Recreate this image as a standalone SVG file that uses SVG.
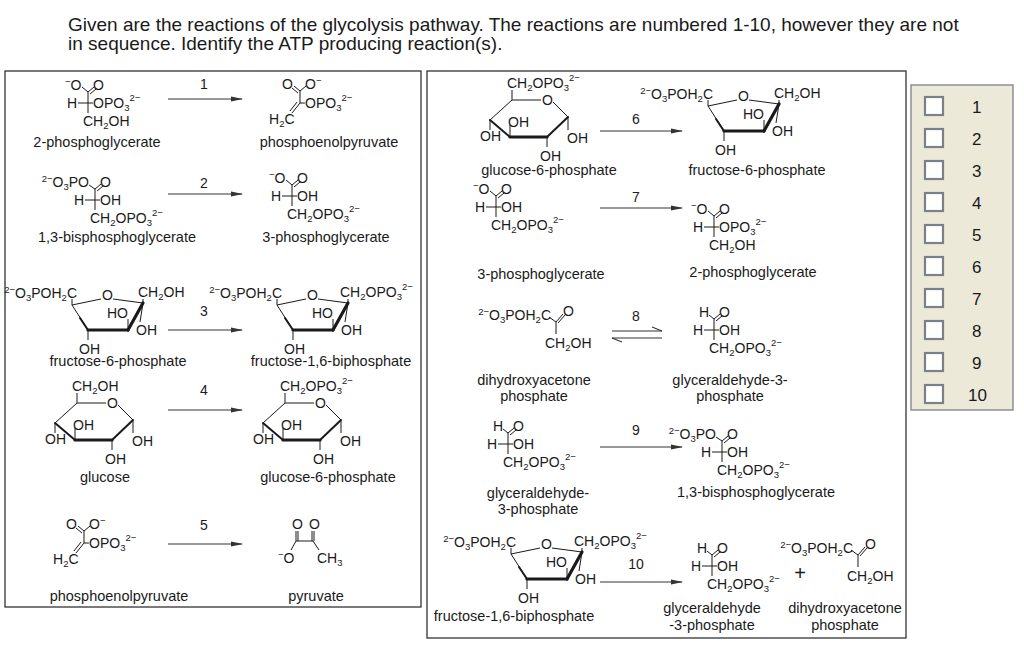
<svg xmlns="http://www.w3.org/2000/svg" xmlns:xlink="http://www.w3.org/1999/xlink" width="1024" height="653" viewBox="0 0 1024 653">
<style>
text{font-family:"Liberation Sans",Arial,sans-serif;fill:#1a1a1a}
.t{font-size:14px}
.s{font-size:9.5px}
.lab{font-size:14.5px;text-anchor:middle}
.ttl{font-size:19px}
.n{font-size:14px;text-anchor:middle}
line,polyline{stroke:#1a1a1a;stroke-width:1;fill:none}
.b{stroke-width:3.2;stroke-linecap:round}
.box{fill:#fff;stroke:#333;stroke-width:1.3}
.cb{fill:#fff;stroke:#7a8288;stroke-width:2.2}
.num{font-size:17px}
.arr{stroke:#333;stroke-width:1.1}
</style>
<defs>
<marker id="ah" markerWidth="12" markerHeight="6" refX="11" refY="3" orient="auto" markerUnits="userSpaceOnUse"><path d="M0,0.5 L12,3 L0,5.5 Z" fill="#333"/></marker>
<g id="pg2">
<line x1="0" y1="-11" x2="0" y2="10"/><line x1="0" y1="-11" x2="-6" y2="-16"/><line x1="0" y1="-11" x2="6" y2="-16"/><line x1="2" y1="-9" x2="8" y2="-14"/>
<text class="t" x="-23" y="-13"><tspan class="s" dy="-5">−</tspan><tspan dy="5">O</tspan></text><text class="t" x="5" y="-13">O</text>
<line x1="-10" y1="0" x2="0" y2="0"/><line x1="0" y1="0" x2="5" y2="0"/>
<text class="t" x="-21" y="5">H</text>
<text class="t" x="5" y="5">OPO<tspan class="s" dy="3">3</tspan><tspan class="s" dy="-10">2−</tspan></text>
<text class="t" x="-5" y="23">CH<tspan class="s" dy="3">2</tspan><tspan dy="-3">OH</tspan></text>
</g>
<g id="tail3">
<line x1="0" y1="0" x2="0" y2="10"/><line x1="-10" y1="0" x2="5" y2="0"/>
<text class="t" x="-21" y="5">H</text><text class="t" x="5" y="5">OH</text>
<text class="t" x="-5" y="23">CH<tspan class="s" dy="3">2</tspan><tspan dy="-3">OPO</tspan><tspan class="s" dy="3">3</tspan><tspan class="s" dy="-10">2−</tspan></text>
</g>
<g id="pg3">
<use xlink:href="#tail3"/>
<line x1="0" y1="-11" x2="0" y2="0"/><line x1="0" y1="-11" x2="-6" y2="-16"/><line x1="0" y1="-11" x2="6" y2="-16"/><line x1="2" y1="-9" x2="8" y2="-14"/>
<text class="t" x="-23" y="-13"><tspan class="s" dy="-5">−</tspan><tspan dy="5">O</tspan></text><text class="t" x="5" y="-13">O</text>
</g>
<g id="gap">
<use xlink:href="#tail3"/>
<line x1="0" y1="-11" x2="0" y2="0"/><line x1="0" y1="-11" x2="-5" y2="-15"/><line x1="0" y1="-11" x2="6" y2="-16"/><line x1="2" y1="-9" x2="8" y2="-14"/>
<text class="t" x="-15" y="-13">H</text><text class="t" x="5" y="-13">O</text>
</g>
<g id="bpg">
<use xlink:href="#tail3"/>
<line x1="0" y1="-11" x2="0" y2="0"/><line x1="0" y1="-11" x2="-6" y2="-15"/><line x1="0" y1="-11" x2="6" y2="-16"/><line x1="2" y1="-9" x2="8" y2="-14"/>
<text class="t" x="-6" y="-13" text-anchor="end"><tspan class="s" dy="-5">2−</tspan><tspan dy="5">O</tspan><tspan class="s" dy="3">3</tspan><tspan dy="-3">PO</tspan></text><text class="t" x="5" y="-13">O</text>
</g>
<g id="pep">
<line x1="0" y1="0" x2="0" y2="-12"/><line x1="0" y1="-12" x2="-6" y2="-17"/><line x1="-2" y1="-10" x2="-8" y2="-15"/><line x1="0" y1="-12" x2="6" y2="-17"/>
<text class="t" x="-18" y="-14">O</text><text class="t" x="5" y="-14">O<tspan class="s" dy="-5">−</tspan></text>
<line x1="0" y1="0" x2="5" y2="0"/>
<text class="t" x="5" y="5">OPO<tspan class="s" dy="3">3</tspan><tspan class="s" dy="-10">2−</tspan></text>
<line x1="0" y1="0" x2="-8" y2="10"/><line x1="-3" y1="-1" x2="-10" y2="8"/>
<text class="t" x="-31" y="21">H<tspan class="s" dy="3">2</tspan><tspan dy="-3">C</tspan></text>
</g>
<g id="pyr">
<line x1="0" y1="0" x2="0" y2="-10"/><line x1="2" y1="0" x2="2" y2="-10"/><text class="t" x="-4" y="-12">O</text>
<line x1="0" y1="0" x2="-5" y2="9"/><text class="t" x="-18" y="22"><tspan class="s" dy="-5">−</tspan><tspan dy="5">O</tspan></text>
<line x1="0" y1="0" x2="17" y2="0"/>
<line x1="16" y1="0" x2="16" y2="-10"/><line x1="18" y1="0" x2="18" y2="-10"/><text class="t" x="13" y="-12">O</text>
<line x1="17" y1="0" x2="23" y2="9"/><text class="t" x="21" y="22">CH<tspan class="s" dy="3">3</tspan></text>
</g>
<g id="dhapcore">
<line x1="-7" y1="-5" x2="0" y2="0"/><line x1="0" y1="0" x2="7" y2="-8"/><line x1="2" y1="1" x2="9" y2="-7"/>
<text class="t" x="7" y="-6">O</text>
<line x1="0" y1="0" x2="0" y2="12"/>
<text class="t" x="-11" y="26">CH<tspan class="s" dy="3">2</tspan><tspan dy="-3">OH</tspan></text>
<text class="t" x="-5" y="-2" text-anchor="end"><tspan class="s" dy="-5">2−</tspan><tspan dy="5">O</tspan><tspan class="s" dy="3">3</tspan><tspan dy="-3">POH</tspan><tspan class="s" dy="3">2</tspan><tspan dy="-3">C</tspan></text>
</g>
<g id="furan">
<text class="t" x="5" y="-7" text-anchor="end"><tspan class="s" dy="-5">2−</tspan><tspan dy="5">O</tspan><tspan class="s" dy="3">3</tspan><tspan dy="-3">POH</tspan><tspan class="s" dy="3">2</tspan><tspan dy="-3">C</tspan></text>
<line x1="0" y1="-6" x2="0" y2="0"/>
<line x1="0" y1="0" x2="29" y2="-6"/><text class="t" x="30" y="-5">O</text><line x1="41" y1="-6" x2="71" y2="-2"/>
<line class="b" x1="71" y1="-2" x2="56" y2="25"/><line class="b" x1="56" y1="25" x2="16" y2="25"/>
<polyline points="0,0 16,25"/><line class="b" x1="8" y1="13" x2="16" y2="25" style="stroke-width:2"/>
<line x1="16" y1="25" x2="16" y2="35"/><text class="t" x="7" y="49">OH</text>
<line x1="56" y1="25" x2="56" y2="14"/><text class="t" x="35" y="13">HO</text>
<line x1="71" y1="-2" x2="68" y2="17"/><text class="t" x="64" y="30">OH</text>
<line x1="71" y1="-2" x2="71" y2="-6"/>
</g>
<g id="f6p"><use xlink:href="#furan"/><text class="t" x="66" y="-8">CH<tspan class="s" dy="3">2</tspan><tspan dy="-3">OH</tspan></text></g>
<g id="f16"><use xlink:href="#furan"/><text class="t" x="63" y="-8">CH<tspan class="s" dy="3">2</tspan><tspan dy="-3">OPO</tspan><tspan class="s" dy="3">3</tspan><tspan class="s" dy="-10">2−</tspan></text></g>
<g id="pyran">
<line x1="0" y1="0" x2="29" y2="0"/><text class="t" x="30" y="5">O</text><line x1="41" y1="2" x2="56" y2="17"/>
<line class="b" x1="56" y1="17" x2="35" y2="37" style="stroke-width:2"/><line class="b" x1="35" y1="37" x2="-2" y2="37"/><line class="b" x1="-2" y1="37" x2="-22" y2="20" style="stroke-width:2"/>
<line x1="-22" y1="20" x2="0" y2="0"/>
<line x1="0" y1="0" x2="0" y2="-10"/>
<line x1="56" y1="17" x2="56" y2="30"/><text class="t" x="55" y="43">OH</text>
<line x1="35" y1="37" x2="35" y2="47"/><text class="t" x="28" y="61">OH</text>
<line x1="-2" y1="37" x2="-2" y2="25"/><text class="t" x="-4" y="27">OH</text>
<line x1="-22" y1="20" x2="-22" y2="30"/><text class="t" x="-32" y="41">OH</text>
</g>
<g id="glc"><use xlink:href="#pyran"/><text class="t" x="-5" y="-12">CH<tspan class="s" dy="3">2</tspan><tspan dy="-3">OH</tspan></text></g>
<g id="g6p"><use xlink:href="#pyran"/><text class="t" x="-5" y="-12">CH<tspan class="s" dy="3">2</tspan><tspan dy="-3">OPO</tspan><tspan class="s" dy="3">3</tspan><tspan class="s" dy="-10">2−</tspan></text></g>
</defs>
<rect width="1024" height="653" fill="#fff"/>
<text class="ttl" x="68" y="31">Given are the reactions of the glycolysis pathway. The reactions are numbered 1-10, however they are not</text>
<text class="ttl" x="68" y="50">in sequence. Identify the ATP producing reaction(s).</text>
<rect class="box" x="5" y="71" width="416" height="536"/>
<rect class="box" x="427" y="71" width="479" height="567"/>
<g id="answers">
<rect x="911" y="85" width="102" height="325" fill="#ece9d8" stroke="#8a9094" stroke-width="1.5"/>
<g><rect class="cb" x="925" y="97" width="18" height="18"/><text class="num" x="972" y="113">1</text></g>
<g><rect class="cb" x="925" y="129" width="18" height="18"/><text class="num" x="972" y="145">2</text></g>
<g><rect class="cb" x="925" y="161" width="18" height="18"/><text class="num" x="972" y="177">3</text></g>
<g><rect class="cb" x="925" y="193" width="18" height="18"/><text class="num" x="972" y="209">4</text></g>
<g><rect class="cb" x="925" y="225" width="18" height="18"/><text class="num" x="972" y="241">5</text></g>
<g><rect class="cb" x="925" y="257" width="18" height="18"/><text class="num" x="972" y="273">6</text></g>
<g><rect class="cb" x="925" y="289" width="18" height="18"/><text class="num" x="972" y="305">7</text></g>
<g><rect class="cb" x="925" y="321" width="18" height="18"/><text class="num" x="972" y="337">8</text></g>
<g><rect class="cb" x="925" y="353" width="18" height="18"/><text class="num" x="972" y="369">9</text></g>
<g><rect class="cb" x="925" y="385" width="18" height="18"/><text class="num" x="968" y="401">10</text></g>
</g>
<g id="m1"><use xlink:href="#pg2" x="88" y="103"/><text class="lab" x="97" y="147">2-phosphoglycerate</text></g>
<g id="m2"><use xlink:href="#pep" x="300" y="103"/><text class="lab" x="329" y="147">phosphoenolpyruvate</text></g>
<g id="m3"><use xlink:href="#bpg" x="95" y="200"/><text class="lab" x="117" y="242">1,3-bisphosphoglycerate</text></g>
<g id="m4"><use xlink:href="#pg3" x="292" y="196"/><text class="lab" x="326" y="242">3-phosphoglycerate</text></g>
<g id="m5"><use xlink:href="#f6p" x="72" y="305"/><text class="lab" x="118" y="366">fructose-6-phosphate</text></g>
<g id="m6"><use xlink:href="#f16" x="277" y="305"/><text class="lab" x="331" y="366">fructose-1,6-biphosphate</text></g>
<g id="m7"><use xlink:href="#glc" x="77" y="403"/><text class="lab" x="105" y="482">glucose</text></g>
<g id="m8"><use xlink:href="#g6p" x="285" y="403"/><text class="lab" x="328" y="482">glucose-6-phosphate</text></g>
<g id="m9"><use xlink:href="#pep" x="84" y="543"/><text class="lab" x="119" y="601">phosphoenolpyruvate</text></g>
<g id="m10"><use xlink:href="#pyr" x="296" y="541"/><text class="lab" x="316" y="601">pyruvate</text></g>
<g id="m11"><use xlink:href="#g6p" x="512" y="100"/><text class="lab" x="549" y="175">glucose-6-phosphate</text></g>
<g id="m12"><use xlink:href="#f6p" x="708" y="106"/><text class="lab" x="757" y="175">fructose-6-phosphate</text></g>
<g id="m13"><use xlink:href="#pg3" x="496" y="207"/><text class="lab" x="541" y="279">3-phosphoglycerate</text></g>
<g id="m14"><use xlink:href="#pg2" x="714" y="227"/><text class="lab" x="753" y="277">2-phosphoglycerate</text></g>
<g id="m15"><use xlink:href="#dhapcore" x="556" y="322"/><text class="lab" x="534" y="385">dihydroxyacetone</text><text class="lab" x="534" y="401">phosphate</text></g>
<g id="m16"><use xlink:href="#gap" x="714" y="330"/><text class="lab" x="730" y="385">glyceraldehyde-3-</text><text class="lab" x="730" y="401">phosphate</text></g>
<g id="m17"><use xlink:href="#gap" x="508" y="444"/><text class="lab" x="538" y="498">glyceraldehyde-</text><text class="lab" x="538" y="514">3-phosphate</text></g>
<g id="m18"><use xlink:href="#bpg" x="722" y="452"/><text class="lab" x="756" y="497">1,3-bisphosphoglycerate</text></g>
<g id="m19"><use xlink:href="#f16" x="511" y="554"/><text class="lab" x="514" y="621">fructose-1,6-biphosphate</text></g>
<g id="m20"><use xlink:href="#gap" x="712" y="566"/><text class="lab" x="712" y="613">glyceraldehyde</text><text class="lab" x="712" y="630">-3-phosphate</text></g>
<g id="m21"><use xlink:href="#dhapcore" x="858" y="555"/><text class="lab" x="845" y="613">dihydroxyacetone</text><text class="lab" x="845" y="630">phosphate</text></g>
<text x="800" y="580" style="font-size:20px;text-anchor:middle">+</text>
<g id="connectors">
<line class="arr" x1="168" y1="99" x2="242" y2="99" marker-end="url(#ah)"/><text class="n" x="204" y="89">1</text>
<line class="arr" x1="168" y1="194" x2="242" y2="194" marker-end="url(#ah)"/><text class="n" x="204" y="188">2</text>
<line class="arr" x1="168" y1="330" x2="242" y2="330" marker-end="url(#ah)"/><text class="n" x="204" y="316">3</text>
<line class="arr" x1="168" y1="410" x2="242" y2="410" marker-end="url(#ah)"/><text class="n" x="204" y="395">4</text>
<line class="arr" x1="168" y1="544" x2="242" y2="544" marker-end="url(#ah)"/><text class="n" x="204" y="530">5</text>
<line class="arr" x1="600" y1="131" x2="682" y2="131" marker-end="url(#ah)"/><text class="n" x="636" y="124">6</text>
<line class="arr" x1="600" y1="208" x2="682" y2="208" marker-end="url(#ah)"/><text class="n" x="636" y="202">7</text>
<line class="arr" x1="612" y1="331" x2="662" y2="331"/><line class="arr" x1="662" y1="331" x2="652" y2="327"/>
<line class="arr" x1="612" y1="338" x2="662" y2="338"/><line class="arr" x1="612" y1="338" x2="622" y2="342"/><text class="n" x="636" y="321">8</text>
<line class="arr" x1="600" y1="447" x2="682" y2="447" marker-end="url(#ah)"/><text class="n" x="636" y="435">9</text>
<line class="arr" x1="600" y1="582" x2="682" y2="582" marker-end="url(#ah)"/><text class="n" x="636" y="569">10</text>
</g>
</svg>
